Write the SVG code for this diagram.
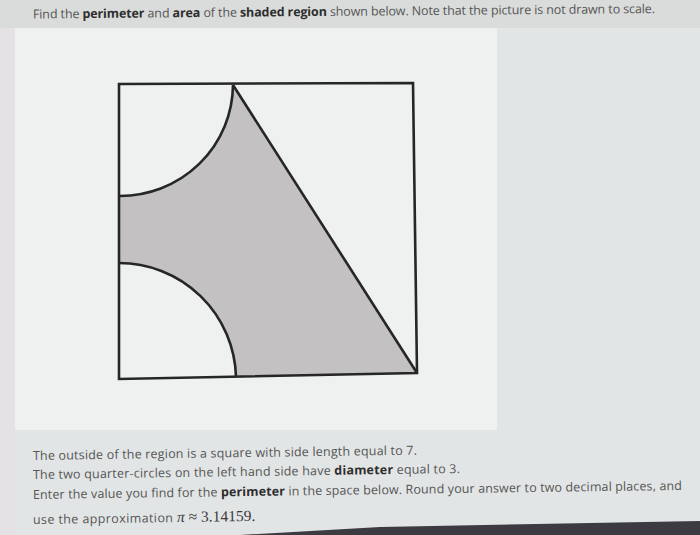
<svg xmlns="http://www.w3.org/2000/svg" width="700" height="535" viewBox="0 0 700 535">
<style>
.t{font-family:"Open Sans","Liberation Sans",sans-serif;font-size:12.5px;fill:#555555}
.b{font-weight:bold;fill:#2e2e2e}
.m{font-family:"Liberation Serif","DejaVu Serif",serif;font-size:15.5px;fill:#3a3a3a}
.edge{fill:none;stroke:#262626;stroke-width:2.6;stroke-linejoin:miter}
</style>
<rect x="0" y="0" width="700" height="535" fill="#e2e5e5"/>
<rect x="0" y="0" width="700" height="28" fill="#dadcdb"/>
<rect x="15" y="28" width="482" height="402" fill="#eef1ef"/>
<rect x="0" y="28" width="15" height="507" fill="#e4e2e4"/>
<polygon points="240,535 380,527 700,521 700,535" fill="#3b3b41"/>

<text class="t" x="33" y="18.5" textLength="622" lengthAdjust="spacing" transform="rotate(-0.5 33 18.5)">Find the <tspan class="b">perimeter</tspan> and <tspan class="b">area</tspan> of the <tspan class="b">shaded region</tspan> shown below. Note that the picture is not drawn to scale.</text>

<g id="figure">
  <path id="shaded" d="M233,85 L417,373 L236,376.6 A117 117 0 0 0 119,263 L119,196 A113 112 0 0 0 233,85 Z" fill="#c3c1c2"/>
  <g id="square"><polygon class="edge" points="119,84 413,83 417,373 119,379"/></g>
  <g id="connectors">
    <path id="top-arc" class="edge" d="M119,196 A113 112 0 0 0 233,85"/>
    <path id="bottom-arc" class="edge" d="M236,376.6 A117 117 0 0 0 119,263"/>
    <line id="diagonal" class="edge" x1="233" y1="85" x2="417" y2="373"/>
  </g>
</g>

<text class="t" x="33" y="460" textLength="384" lengthAdjust="spacing" transform="rotate(-0.8 33 460)">The outside of the region is a square with side length equal to 7.</text>
<text class="t" x="33" y="479" textLength="427" lengthAdjust="spacing" transform="rotate(-0.8 33 479)">The two quarter-circles on the left hand side have <tspan class="b">diameter</tspan> equal to 3.</text>
<text class="t" x="33" y="499" textLength="649" lengthAdjust="spacing" transform="rotate(-0.8 33 499)">Enter the value you find for the <tspan class="b">perimeter</tspan> in the space below. Round your answer to two decimal places, and</text>
<g transform="rotate(-0.8 33 524)">
<text class="t" x="33" y="524" textLength="140" lengthAdjust="spacing">use the approximation</text>
<text class="m" x="177" y="524"><tspan font-style="italic">π</tspan> ≈ 3.14159.</text>
</g>
</svg>
